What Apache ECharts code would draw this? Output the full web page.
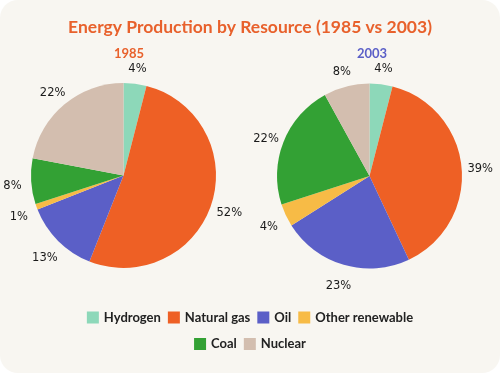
<!DOCTYPE html>
<html>
<head>
<meta charset="utf-8">
<script src="https://cdn.jsdelivr.net/npm/echarts@6/dist/echarts.min.js"></script>
<style>
html,body{margin:0;padding:0;background:#ffffff;}
#wrap{position:absolute;left:0;top:0;width:500px;height:373px;background:#F8F6F1;border-radius:18px;overflow:hidden;}
#chart{width:500px;height:373px;}
</style>
</head>
<body>
<div id="wrap"><div id="chart"></div></div>
<script>
const categories = ['Hydrogen', 'Natural gas', 'Oil', 'Other renewable', 'Coal', 'Nuclear'];
const values1985 = [4, 52, 13, 1, 8, 22];
const values2003 = [4, 39, 23, 4, 22, 8];
const colors = ['#8DD8B9', '#EE6025', '#5B5FC7', '#F7BB46', '#33A134', '#D3BEAF'];
const years = ['1985', '2003'];
const legendRow1 = categories.slice(0, 4);
const legendRow2 = categories.slice(4);

const chart = echarts.init(document.getElementById('chart'), null, {renderer: 'canvas'});

function pieData(vals) {
  return categories.map((c, i) => ({name: c, value: vals[i]}));
}
const R = 92.5;
const centers = [[123.5, 175.5], [369.5, 176]];
const series = [];
[values1985, values2003].forEach((vals, k) => {
  series.push({
    type: 'pie',
    name: years[k],
    center: centers[k],
    radius: [0, R],
    startAngle: 90,
    clockwise: true,
    data: pieData(vals),
    label: {show: false},
    labelLine: {show: false},
    itemStyle: {borderWidth: 0},
    emphasis: {disabled: true},
    animation: false
  });
  series.push({
    type: 'pie',
    name: years[k] + ' labels',
    center: centers[k],
    radius: [R * 1.04, R * 1.30],
    startAngle: 90,
    clockwise: true,
    silent: true,
    data: pieData(vals),
    itemStyle: {color: 'rgba(0,0,0,0)'},
    label: {
      show: true,
      position: 'inside',
      offset: [0, 3.5],
      formatter: p => p.value + '%',
      fontFamily: 'DejaVu Sans',
      fontSize: 11.5,
      color: '#1a1a1a'
    },
    labelLine: {show: false},
    emphasis: {disabled: true},
    animation: false
  });
});

const legendCommon = {
  left: 'center',
  itemWidth: 12,
  itemHeight: 12,
  itemGap: 7,
  icon: 'rect',
  orient: 'horizontal',
  textStyle: {fontFamily: 'Lato', fontWeight: 'bold', fontSize: 13, color: '#222'},
  selectedMode: false
};

chart.setOption({
  color: colors,
  title: [
    {text: 'Energy Production by Resource (1985 vs 2003)', left: 'center', top: 13,
     textStyle: {fontFamily: 'Lato', fontWeight: 'bold', fontSize: 17.5, color: '#E8612C'}},
    {text: years[0], left: 124, top: 42, textAlign: 'center',
     textStyle: {fontFamily: 'Lato', fontWeight: 'bold', fontSize: 13, color: '#E8612C'}},
    {text: years[1], left: 367, top: 42, textAlign: 'center',
     textStyle: {fontFamily: 'Lato', fontWeight: 'bold', fontSize: 13, color: '#5B5FC7'}}
  ],
  legend: [
    Object.assign({data: legendRow1, top: 306}, legendCommon),
    Object.assign({data: legendRow2, top: 332.5}, legendCommon)
  ],
  series: series
});
</script>
</body>
</html>
